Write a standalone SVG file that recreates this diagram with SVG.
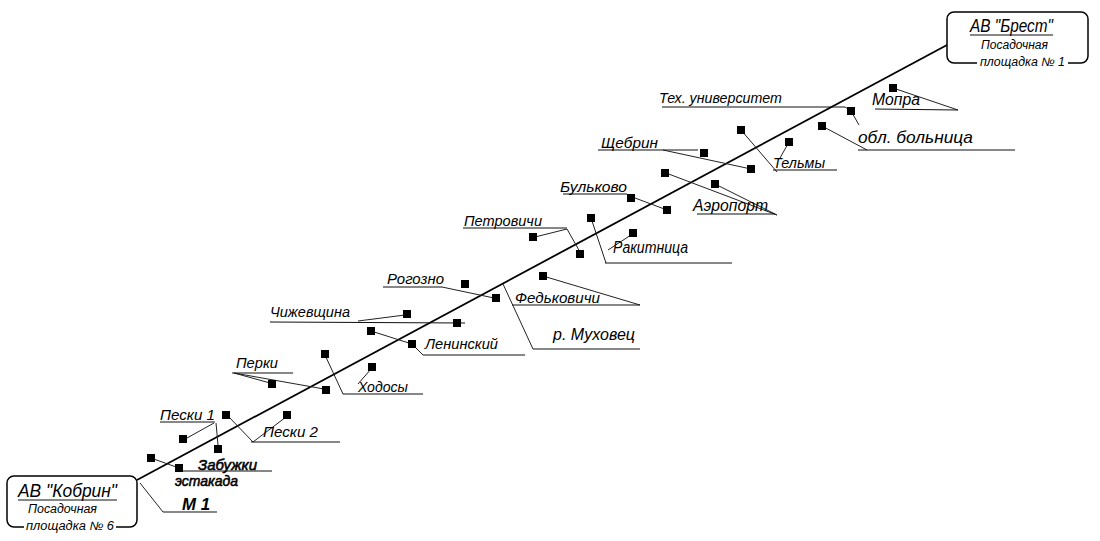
<svg xmlns="http://www.w3.org/2000/svg" width="1100" height="541" viewBox="0 0 1100 541">
<style>
.t{font-family:"Liberation Sans",Arial,sans-serif;font-style:italic;fill:#000}
.b{stroke:#000;stroke-width:0.55}
.bb{font-weight:bold}
.ln{stroke:#222;stroke-width:1;fill:none}
.ul{stroke:#111;stroke-width:1.2;fill:none}
.sq{fill:#000}
.box{fill:#fff;stroke:#000;stroke-width:1.5}
</style>
<defs>
<rect id="s" x="-4" y="-4" width="8" height="8" class="sq"/>
</defs>
<rect width="1100" height="541" fill="#fff"/>
<g id="connectors">
<line x1="137" y1="480" x2="947" y2="45" stroke="#000" stroke-width="1.8"/>
<path class="ln" d="M140 483 L163 512"/>
<path class="ln" d="M214 423 L187 438 M216 423 L218 445"/>
<path class="ln" d="M228 416 L253 442 M286 417 L253 442"/>
<path class="ln" d="M151 458 L179 468"/>
<path class="ln" d="M234 373 L270 383 M234 373 L324 389"/>
<path class="ln" d="M325 355 L343 394 M371 369 L358 384"/>
<path class="ln" d="M371 331 L412 344 L423 355"/>
<path class="ln" d="M358 321 L405 315"/>
<path class="ln" d="M442 287 L494 298"/>
<path class="ln" d="M543 276 L640 305"/>
<path class="ln" d="M503 284 L533 349"/>
<path class="ln" d="M567 229 L535 237 M567 229 L580 252"/>
<path class="ln" d="M591 218 L606 263 M631 235 L608 250"/>
<path class="ln" d="M627 195 L667 210"/>
<path class="ln" d="M663 150 L751 169"/>
<path class="ln" d="M666 173 L777 215 M715 184 L777 215"/>
<path class="ln" d="M741 130 L777 172 M789 142 L780 158"/>
<path class="ln" d="M845 107 L851 111 L859 125"/>
<path class="ln" d="M822 126 L867 150"/>
<path class="ln" d="M893 88 L958 110"/>
</g>
<g id="underlines">
<line class="ul" x1="160" y1="422" x2="215" y2="422"/>
<line class="ul" x1="251" y1="442" x2="340" y2="442"/>
<line class="ul" x1="180" y1="471" x2="272" y2="471"/>
<line class="ul" x1="163" y1="512" x2="217" y2="512"/>
<line class="ul" x1="232" y1="373" x2="293" y2="373"/>
<line class="ul" x1="343" y1="394" x2="423" y2="394"/>
<line class="ul" x1="423" y1="355" x2="525" y2="355"/>
<line class="ul" x1="270" y1="322" x2="465" y2="323"/>
<line class="ul" x1="383" y1="287" x2="442" y2="287"/>
<line class="ul" x1="512" y1="305" x2="640" y2="305"/>
<line class="ul" x1="533" y1="349" x2="640" y2="349"/>
<line class="ul" x1="463" y1="228" x2="567" y2="228"/>
<line class="ul" x1="605" y1="263" x2="732" y2="263"/>
<line class="ul" x1="563" y1="194" x2="627" y2="194"/>
<line class="ul" x1="598" y1="150" x2="698" y2="150"/>
<line class="ul" x1="697" y1="214" x2="775" y2="214"/>
<line class="ul" x1="773" y1="170" x2="837" y2="170"/>
<line class="ul" x1="662" y1="107" x2="845" y2="107"/>
<line class="ul" x1="858" y1="150" x2="1015" y2="150"/>
<line class="ul" x1="875" y1="109" x2="958" y2="110"/>
</g>
<g id="stops">
<use href="#s" x="183" y="439"/><use href="#s" x="218" y="449"/>
<use href="#s" x="226" y="415"/><use href="#s" x="287" y="415"/>
<use href="#s" x="151" y="458"/><use href="#s" x="179" y="468"/>
<use href="#s" x="272" y="384"/><use href="#s" x="326" y="390"/>
<use href="#s" x="325" y="354"/><use href="#s" x="372" y="367"/>
<use href="#s" x="371" y="331"/><use href="#s" x="412" y="344"/>
<use href="#s" x="407" y="314"/><use href="#s" x="457" y="323"/>
<use href="#s" x="465" y="284"/><use href="#s" x="496" y="298"/>
<use href="#s" x="543" y="276"/>
<use href="#s" x="533" y="237"/><use href="#s" x="580" y="254"/>
<use href="#s" x="591" y="218"/><use href="#s" x="633" y="233"/>
<use href="#s" x="631" y="198"/><use href="#s" x="667" y="210"/>
<use href="#s" x="704" y="153"/><use href="#s" x="751" y="169"/>
<use href="#s" x="665" y="173"/><use href="#s" x="715" y="184"/>
<use href="#s" x="741" y="130"/><use href="#s" x="789" y="142"/>
<use href="#s" x="851" y="111"/><use href="#s" x="822" y="126"/>
<use href="#s" x="893" y="88"/>
</g>
<g id="labels">
<text class="t" x="160" y="420" font-size="14" textLength="55" lengthAdjust="spacingAndGlyphs">Пески 1</text>
<text class="t" x="263" y="437" font-size="15" textLength="55" lengthAdjust="spacingAndGlyphs">Пески 2</text>
<text class="t b" x="198" y="470" font-size="15" textLength="59" lengthAdjust="spacingAndGlyphs">Забужки</text>
<text class="t b" x="175" y="486" font-size="15" textLength="63" lengthAdjust="spacingAndGlyphs">эстакада</text>
<text class="t bb" x="182" y="510" font-size="16" textLength="28" lengthAdjust="spacingAndGlyphs">М 1</text>
<text class="t" x="236" y="368" font-size="14" textLength="42" lengthAdjust="spacingAndGlyphs">Перки</text>
<text class="t" x="358" y="392" font-size="15" textLength="50" lengthAdjust="spacingAndGlyphs">Ходосы</text>
<text class="t" x="425" y="349" font-size="15" textLength="73" lengthAdjust="spacingAndGlyphs">Ленинский</text>
<text class="t" x="270" y="317" font-size="14" textLength="80" lengthAdjust="spacingAndGlyphs">Чижевщина</text>
<text class="t" x="387" y="284" font-size="14" textLength="57" lengthAdjust="spacingAndGlyphs">Рогозно</text>
<text class="t" x="515" y="303" font-size="15" textLength="85" lengthAdjust="spacingAndGlyphs">Федьковичи</text>
<text class="t" x="553" y="340" font-size="16" textLength="82" lengthAdjust="spacingAndGlyphs">р. Муховец</text>
<text class="t" x="464" y="226" font-size="14" textLength="78" lengthAdjust="spacingAndGlyphs">Петровичи</text>
<text class="t" x="613" y="253" font-size="16" textLength="75" lengthAdjust="spacingAndGlyphs">Ракитница</text>
<text class="t" x="560" y="192" font-size="14" textLength="67" lengthAdjust="spacingAndGlyphs">Бульково</text>
<text class="t" x="601" y="148" font-size="15" textLength="57" lengthAdjust="spacingAndGlyphs">Щебрин</text>
<text class="t" x="693" y="211" font-size="16" textLength="75" lengthAdjust="spacingAndGlyphs">Аэропорт</text>
<text class="t" x="773" y="168" font-size="15" textLength="52" lengthAdjust="spacingAndGlyphs">Тельмы</text>
<text class="t" x="659" y="103" font-size="15" textLength="123" lengthAdjust="spacingAndGlyphs">Тех. университет</text>
<text class="t" x="858" y="143" font-size="17" textLength="115" lengthAdjust="spacingAndGlyphs">обл. больница</text>
<text class="t" x="872" y="105" font-size="16" textLength="48" lengthAdjust="spacingAndGlyphs">Мопра</text>
</g>
<g id="kobrin">
<rect class="box" x="7" y="476" width="130" height="51" rx="7"/>
<rect x="24" y="520" width="92" height="12" fill="#fff"/>
<text class="t" x="18" y="497" font-size="18" textLength="99" lengthAdjust="spacingAndGlyphs">АВ "Кобрин"</text>
<line class="ul" x1="18" y1="500" x2="117" y2="500"/>
<text class="t" x="28" y="513" font-size="12" textLength="69" lengthAdjust="spacingAndGlyphs" fill="#333">Посадочная</text>
<text class="t" x="26" y="530" font-size="12" textLength="88" lengthAdjust="spacingAndGlyphs" fill="#333">площадка № 6</text>
</g>
<g id="brest">
<rect class="box" x="947" y="12" width="141" height="51" rx="7"/>
<rect x="977" y="56" width="91" height="12" fill="#fff"/>
<text class="t" x="970" y="32" font-size="18" textLength="83" lengthAdjust="spacingAndGlyphs">АВ "Брест"</text>
<line class="ul" x1="970" y1="35" x2="1053" y2="35"/>
<text class="t" x="981" y="49" font-size="12" textLength="67" lengthAdjust="spacingAndGlyphs" fill="#333">Посадочная</text>
<text class="t" x="980" y="66" font-size="12" textLength="85" lengthAdjust="spacingAndGlyphs" fill="#333">площадка № 1</text>
</g>
</svg>
